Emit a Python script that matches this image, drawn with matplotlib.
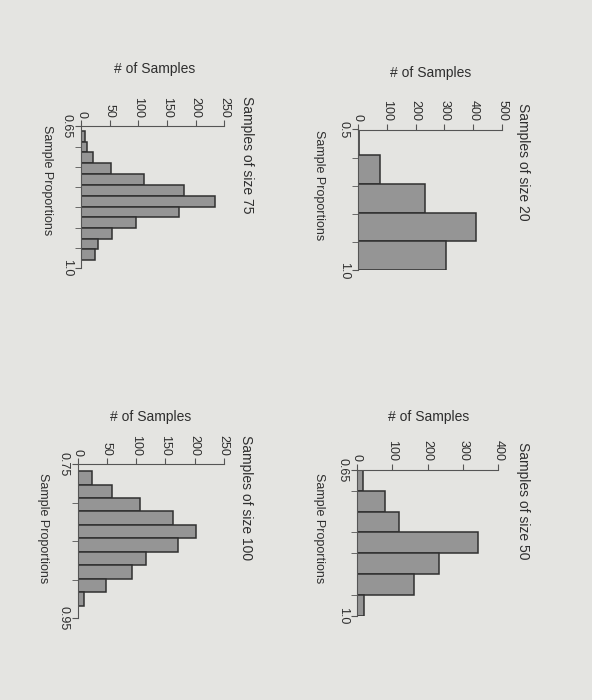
import matplotlib
matplotlib.use("Agg")
import matplotlib.pyplot as plt

plt.rcParams['font.family'] = ['Liberation Sans', 'DejaVu Sans']

# Data (bin edges in sample proportion, counts)
edges20 = [0.5, 0.59, 0.695, 0.795, 0.895, 1.0]
counts20 = [3, 75, 233, 408, 305]
edges50 = [0.65, 0.70, 0.75, 0.80, 0.85, 0.90, 0.95, 1.0]
counts50 = [16, 80, 120, 343, 232, 160, 21]
edges75 = [0.661, 0.688, 0.714, 0.741, 0.768, 0.794, 0.821, 0.848, 0.874, 0.901, 0.928, 0.954, 0.981]
counts75 = [6, 10, 20, 52, 110, 180, 233, 170, 95, 54, 29, 24]
edges100 = [0.759, 0.7765, 0.794, 0.8115, 0.829, 0.8465, 0.864, 0.8815, 0.899, 0.9165, 0.934]
counts100 = [24, 59, 107, 163, 202, 171, 117, 93, 49, 11]

panels = [
    dict(title="Samples of size 20", edges=edges20, counts=counts20, rect=[.6046, .614, .2434, .201],
         xmax=500, xt=[0, 100, 200, 300, 400, 500], ylim=(1.0, 0.5), ylab=[0.5, 1.0], ylabs=["0.5", "1.0"],
         minor=[0.6, 0.7, 0.8, 0.9],
         tpos=(.883, .853), npos=(.727, .895), spos=(.539, .815)),
    dict(title="Samples of size 50", edges=edges50, counts=counts50, rect=[.603, .120, .239, .209],
         xmax=400, xt=[0, 100, 200, 300, 400], ylim=(1.0, 0.65), ylab=[0.65, 1.0], ylabs=["0.65", "1.0"],
         minor=[0.70, 0.80, 0.85, 0.95],
         tpos=(.883, .369), npos=(.724, .405), spos=(.539, .324)),
    dict(title="Samples of size 75", edges=edges75, counts=counts75, rect=[.137, .617, .242, .2025],
         xmax=250, xt=[0, 50, 100, 150, 200, 250], ylim=(1.0, 0.65), ylab=[0.65, 1.0], ylabs=["0.65", "1.0"],
         minor=[0.70, 0.75, 0.80, 0.85, 0.90, 0.95],
         tpos=(.418, .863), npos=(.261, .901), spos=(.08, .821)),
    dict(title="Samples of size 100", edges=edges100, counts=counts100, rect=[.131, .117, .247, .220],
         xmax=250, xt=[0, 50, 100, 150, 200, 250], ylim=(0.95, 0.75), ylab=[0.75, 0.95], ylabs=["0.75", "0.95"],
         minor=[0.80, 0.85, 0.90],
         tpos=(.415, .378), npos=(.255, .405), spos=(.073, .324)),
]

bg = "#e4e4e1"
txt = "#2e2e2e"
fig = plt.figure(figsize=(5.92, 7.0), dpi=100, facecolor=bg)
fs = 9
for p in panels:
    ax = fig.add_axes(p["rect"])
    ax.set_facecolor("none")
    e = p["edges"]
    lefts = e[:-1]
    widths = [b - a for a, b in zip(e[:-1], e[1:])]
    ax.barh(lefts, p["counts"], height=widths, align="edge", color="#959595",
            edgecolor="#303030", linewidth=1.1)
    ax.set_xlim(0, p["xmax"])
    ax.set_ylim(*p["ylim"])
    for s in ["right", "bottom"]:
        ax.spines[s].set_visible(False)
    for s in ["top", "left"]:
        ax.spines[s].set_color("#555555")
    ax.xaxis.set_ticks_position("top")
    ax.set_xticks(p["xt"])
    ax.set_xticklabels([str(v) for v in p["xt"]], rotation=-90, fontsize=fs, color=txt,
                       ha="center", va="bottom")
    ax.set_yticks(p["ylab"])
    ax.set_yticklabels(p["ylabs"], rotation=-90, fontsize=fs, color=txt, ha="right", va="center")
    ax.set_yticks(p["minor"], minor=True)
    ax.tick_params(axis="both", which="both", color="#555555", length=4, pad=2)
    fig.text(*p["tpos"], p["title"], rotation=-90, ha="center", va="top", fontsize=fs + 1, color=txt)
    fig.text(*p["npos"], "# of Samples", ha="center", va="center", fontsize=fs + 1, color=txt)
    fig.text(*p["spos"], "Sample Proportions", rotation=-90, ha="center", va="top", fontsize=fs, color=txt)

fig.savefig("out.png", dpi=100, facecolor=bg)
